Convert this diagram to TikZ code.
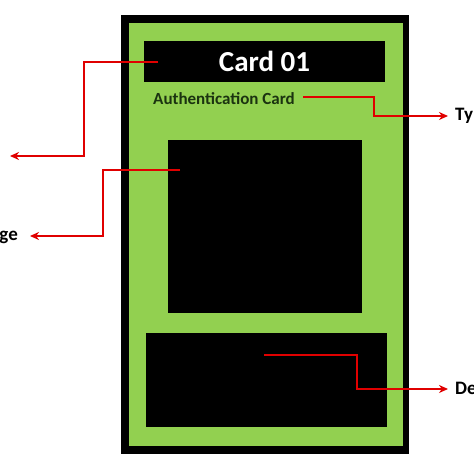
\documentclass[tikz,border=0pt]{standalone}
\usepackage{fontspec}
\setmainfont{Carlito}
\usepackage{xcolor}
\usetikzlibrary{arrows.meta,positioning}

\definecolor{cardgreen}{HTML}{92D050}
\definecolor{pointred}{HTML}{E00000}
\definecolor{labelgreen}{HTML}{1B3310}

\begin{document}
\begin{tikzpicture}[
		x=1pt, y=-1pt,
		>={Stealth[length=9pt,width=8pt]},
		pointer/.style={->, draw=pointred, line width=2.2pt},
		blackbox/.style={fill=black, draw=none, inner sep=0pt},
		sidelabel/.style={font=\bfseries\fontsize{19}{22}\selectfont, inner ysep=0pt}
	  ]

	  \useasboundingbox (0,0) rectangle (474,474);
	  \clip (0,0) rectangle (474,474);

	  % card frame
	  \fill[black] (121,15) rectangle (409,454);
	  \fill[cardgreen] (129,23) rectangle (403,446);

	  \node[blackbox, minimum width=241pt, minimum height=41pt, text=white,
	        font=\bfseries\fontsize{29}{34}\selectfont] (title) at (264.5,61.5) {Card 01};
	  \node[anchor=west, inner sep=0pt, text=labelgreen,
	        font=\bfseries\fontsize{17}{20}\selectfont] (auth) at (153,99) {Authentication Card};
	  \node[blackbox, minimum width=194pt, minimum height=173pt] (photo) at (265,226.5) {};
	  \node[blackbox, minimum width=241pt, minimum height=94pt] (details) at (266.5,380) {};

	  % labels, mostly outside the page
	  \node[sidelabel, anchor=east, inner xsep=12pt] (imagelbl) at (30,236) {Image};
	  \node[sidelabel, anchor=west, inner xsep=7pt] (typelbl) at (448,116) {Type};
	  \node[sidelabel, anchor=west, inner xsep=7pt] (desclbl) at (448,389) {Description};

	  \coordinate (titlept) at (158,62);
	  \coordinate (titleend) at (10,156);
	  \coordinate (photopt) at (180,170);
	  \coordinate (typept) at (303,97);
	  \coordinate (descpt) at (264,355);

	  \draw[pointer] (titlept) -- ++(-74,0) |- (titleend);
	  \draw[pointer] (photopt) -- ++(-77,0) |- (imagelbl.east);
	  \draw[pointer] (typept) -- ++(71,0) |- (typelbl.west);
	  \draw[pointer] (descpt) -- ++(93,0) |- (desclbl.west);

	\end{tikzpicture}
\end{document}
